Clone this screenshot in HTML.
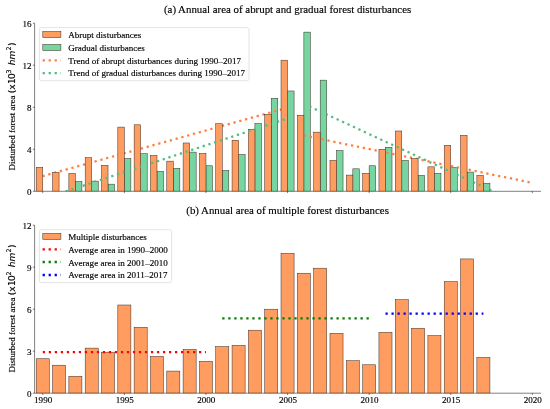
<!DOCTYPE html>
<html lang="en">
<head>
<meta charset="utf-8">
<title>Forest disturbances</title>
<style>
html,body{margin:0;padding:0;background:#fff;}
body{width:550px;height:409px;overflow:hidden;}
svg text{white-space:pre;stroke:#000;stroke-width:0.15px;}
</style>
</head>
<body>
<svg width="550" height="409" viewBox="0 0 550 409" style="display:block">
<rect x="0" y="0" width="550" height="409" fill="#fff"/>
<defs><clipPath id="ct"><rect x="34.60" y="23.20" width="506.40" height="168.10"/></clipPath>
<clipPath id="cb"><rect x="34.60" y="225.20" width="506.40" height="168.00"/></clipPath></defs>
<g font-family="'Liberation Serif', serif" fill="#000">
<text x="287.6" y="12.65" font-size="10.87" text-anchor="middle">(a) Annual area of abrupt and gradual forest disturbances</text>
<text x="287.6" y="213.7" font-size="10.87" text-anchor="middle">(b) Annual area of multiple forest disturbances</text>
</g>
<g stroke="#3a2a20" stroke-width="0.50" clip-path="url(#ct)">
<rect x="75.39" y="181.53" width="6.53" height="9.77" fill="#76D5A0"/>
<rect x="91.71" y="181.11" width="6.53" height="10.19" fill="#76D5A0"/>
<rect x="108.03" y="184.16" width="6.53" height="7.14" fill="#76D5A0"/>
<rect x="124.35" y="158.42" width="6.53" height="32.88" fill="#76D5A0"/>
<rect x="140.67" y="153.69" width="6.53" height="37.61" fill="#76D5A0"/>
<rect x="156.99" y="171.34" width="6.53" height="19.96" fill="#76D5A0"/>
<rect x="173.31" y="168.29" width="6.53" height="23.01" fill="#76D5A0"/>
<rect x="189.63" y="152.11" width="6.53" height="39.19" fill="#76D5A0"/>
<rect x="205.95" y="165.77" width="6.53" height="25.53" fill="#76D5A0"/>
<rect x="222.27" y="170.50" width="6.53" height="20.80" fill="#76D5A0"/>
<rect x="238.59" y="154.42" width="6.53" height="36.88" fill="#76D5A0"/>
<rect x="254.91" y="123.54" width="6.53" height="67.76" fill="#76D5A0"/>
<rect x="271.23" y="98.32" width="6.53" height="92.98" fill="#76D5A0"/>
<rect x="287.55" y="90.97" width="6.53" height="100.33" fill="#76D5A0"/>
<rect x="303.87" y="32.13" width="6.53" height="159.17" fill="#76D5A0"/>
<rect x="320.19" y="80.15" width="6.53" height="111.15" fill="#76D5A0"/>
<rect x="336.51" y="150.54" width="6.53" height="40.76" fill="#76D5A0"/>
<rect x="352.83" y="168.82" width="6.53" height="22.48" fill="#76D5A0"/>
<rect x="369.15" y="165.77" width="6.53" height="25.53" fill="#76D5A0"/>
<rect x="385.47" y="147.28" width="6.53" height="44.02" fill="#76D5A0"/>
<rect x="401.79" y="160.41" width="6.53" height="30.89" fill="#76D5A0"/>
<rect x="418.11" y="175.33" width="6.53" height="15.97" fill="#76D5A0"/>
<rect x="434.43" y="173.33" width="6.53" height="17.97" fill="#76D5A0"/>
<rect x="450.75" y="167.56" width="6.53" height="23.74" fill="#76D5A0"/>
<rect x="467.07" y="172.07" width="6.53" height="19.23" fill="#76D5A0"/>
<rect x="483.39" y="183.21" width="6.53" height="8.09" fill="#76D5A0"/>
</g>
<g fill="none">
<line x1="42.45" y1="176.17" x2="287.55" y2="107.67" stroke="#FF7F3F" stroke-width="2.27" stroke-dasharray="2.27 3.74" clip-path="url(#ct)"/>
<line x1="303.87" y1="135.51" x2="532.35" y2="182.90" stroke="#FF7F3F" stroke-width="2.27" stroke-dasharray="2.27 3.74" clip-path="url(#ct)"/>
</g>
<g stroke="#3a2a20" stroke-width="0.50" clip-path="url(#ct)">
<rect x="36.22" y="167.35" width="6.53" height="23.95" fill="#FF9D61"/>
<rect x="52.54" y="172.49" width="6.53" height="18.81" fill="#FF9D61"/>
<rect x="68.86" y="173.44" width="6.53" height="17.86" fill="#FF9D61"/>
<rect x="85.18" y="157.68" width="6.53" height="33.62" fill="#FF9D61"/>
<rect x="101.50" y="165.25" width="6.53" height="26.05" fill="#FF9D61"/>
<rect x="117.82" y="127.11" width="6.53" height="64.19" fill="#FF9D61"/>
<rect x="134.14" y="124.80" width="6.53" height="66.50" fill="#FF9D61"/>
<rect x="150.46" y="155.37" width="6.53" height="35.93" fill="#FF9D61"/>
<rect x="166.78" y="161.15" width="6.53" height="30.15" fill="#FF9D61"/>
<rect x="183.10" y="142.97" width="6.53" height="48.33" fill="#FF9D61"/>
<rect x="199.42" y="153.37" width="6.53" height="37.93" fill="#FF9D61"/>
<rect x="215.74" y="123.75" width="6.53" height="67.55" fill="#FF9D61"/>
<rect x="232.06" y="140.24" width="6.53" height="51.06" fill="#FF9D61"/>
<rect x="248.38" y="129.31" width="6.53" height="61.99" fill="#FF9D61"/>
<rect x="264.70" y="114.29" width="6.53" height="77.01" fill="#FF9D61"/>
<rect x="281.02" y="60.19" width="6.53" height="131.11" fill="#FF9D61"/>
<rect x="297.34" y="115.24" width="6.53" height="76.06" fill="#FF9D61"/>
<rect x="313.66" y="132.15" width="6.53" height="59.15" fill="#FF9D61"/>
<rect x="329.98" y="160.41" width="6.53" height="30.89" fill="#FF9D61"/>
<rect x="346.30" y="175.12" width="6.53" height="16.18" fill="#FF9D61"/>
<rect x="362.62" y="173.33" width="6.53" height="17.97" fill="#FF9D61"/>
<rect x="378.94" y="149.28" width="6.53" height="42.02" fill="#FF9D61"/>
<rect x="395.26" y="131.00" width="6.53" height="60.30" fill="#FF9D61"/>
<rect x="411.58" y="158.42" width="6.53" height="32.88" fill="#FF9D61"/>
<rect x="427.90" y="166.82" width="6.53" height="24.48" fill="#FF9D61"/>
<rect x="444.22" y="145.28" width="6.53" height="46.02" fill="#FF9D61"/>
<rect x="460.54" y="135.30" width="6.53" height="56.00" fill="#FF9D61"/>
<rect x="476.86" y="175.33" width="6.53" height="15.97" fill="#FF9D61"/>
</g>
<mask id="mg" maskUnits="userSpaceOnUse" x="0" y="0" width="550" height="409"><rect x="0" y="0" width="550" height="409" fill="#fff"/>
<rect x="75.39" y="181.53" width="6.53" height="9.77" fill="#000"/>
<rect x="91.71" y="181.11" width="6.53" height="10.19" fill="#000"/>
<rect x="108.03" y="184.16" width="6.53" height="7.14" fill="#000"/>
<rect x="124.35" y="158.42" width="6.53" height="32.88" fill="#000"/>
<rect x="140.67" y="153.69" width="6.53" height="37.61" fill="#000"/>
<rect x="156.99" y="171.34" width="6.53" height="19.96" fill="#000"/>
<rect x="173.31" y="168.29" width="6.53" height="23.01" fill="#000"/>
<rect x="189.63" y="152.11" width="6.53" height="39.19" fill="#000"/>
<rect x="205.95" y="165.77" width="6.53" height="25.53" fill="#000"/>
<rect x="222.27" y="170.50" width="6.53" height="20.80" fill="#000"/>
<rect x="238.59" y="154.42" width="6.53" height="36.88" fill="#000"/>
<rect x="254.91" y="123.54" width="6.53" height="67.76" fill="#000"/>
<rect x="271.23" y="98.32" width="6.53" height="92.98" fill="#000"/>
<rect x="287.55" y="90.97" width="6.53" height="100.33" fill="#000"/>
<rect x="303.87" y="32.13" width="6.53" height="159.17" fill="#000"/>
<rect x="320.19" y="80.15" width="6.53" height="111.15" fill="#000"/>
<rect x="336.51" y="150.54" width="6.53" height="40.76" fill="#000"/>
<rect x="352.83" y="168.82" width="6.53" height="22.48" fill="#000"/>
<rect x="369.15" y="165.77" width="6.53" height="25.53" fill="#000"/>
<rect x="385.47" y="147.28" width="6.53" height="44.02" fill="#000"/>
<rect x="401.79" y="160.41" width="6.53" height="30.89" fill="#000"/>
<rect x="418.11" y="175.33" width="6.53" height="15.97" fill="#000"/>
<rect x="434.43" y="173.33" width="6.53" height="17.97" fill="#000"/>
<rect x="450.75" y="167.56" width="6.53" height="23.74" fill="#000"/>
<rect x="467.07" y="172.07" width="6.53" height="19.23" fill="#000"/>
<rect x="483.39" y="183.21" width="6.53" height="8.09" fill="#000"/>
</mask>
<g fill="none" mask="url(#mg)">
<line x1="42.75" y1="198.94" x2="287.55" y2="118.49" stroke="#50BE82" stroke-width="2.27" stroke-dasharray="2.27 3.74" clip-path="url(#ct)"/>
<line x1="303.87" y1="103.89" x2="532.35" y2="209.54" stroke="#50BE82" stroke-width="2.27" stroke-dasharray="2.27 3.74" clip-path="url(#ct)"/>
</g>
<g stroke="#3a2a20" stroke-width="0.50" clip-path="url(#cb)">
<rect x="36.22" y="358.76" width="13.06" height="34.44" fill="#FF9D61"/>
<rect x="52.54" y="365.20" width="13.06" height="28.00" fill="#FF9D61"/>
<rect x="68.86" y="376.26" width="13.06" height="16.94" fill="#FF9D61"/>
<rect x="85.18" y="348.12" width="13.06" height="45.08" fill="#FF9D61"/>
<rect x="101.50" y="352.18" width="13.06" height="41.02" fill="#FF9D61"/>
<rect x="117.82" y="305.00" width="13.06" height="88.20" fill="#FF9D61"/>
<rect x="134.14" y="327.26" width="13.06" height="65.94" fill="#FF9D61"/>
<rect x="150.46" y="356.38" width="13.06" height="36.82" fill="#FF9D61"/>
<rect x="166.78" y="371.08" width="13.06" height="22.12" fill="#FF9D61"/>
<rect x="183.10" y="349.38" width="13.06" height="43.82" fill="#FF9D61"/>
<rect x="199.42" y="361.28" width="13.06" height="31.92" fill="#FF9D61"/>
<rect x="215.74" y="346.58" width="13.06" height="46.62" fill="#FF9D61"/>
<rect x="232.06" y="345.32" width="13.06" height="47.88" fill="#FF9D61"/>
<rect x="248.38" y="330.20" width="13.06" height="63.00" fill="#FF9D61"/>
<rect x="264.70" y="309.20" width="13.06" height="84.00" fill="#FF9D61"/>
<rect x="281.02" y="253.34" width="13.06" height="139.86" fill="#FF9D61"/>
<rect x="297.34" y="273.22" width="13.06" height="119.98" fill="#FF9D61"/>
<rect x="313.66" y="268.18" width="13.06" height="125.02" fill="#FF9D61"/>
<rect x="329.98" y="333.28" width="13.06" height="59.92" fill="#FF9D61"/>
<rect x="346.30" y="360.72" width="13.06" height="32.48" fill="#FF9D61"/>
<rect x="362.62" y="364.78" width="13.06" height="28.42" fill="#FF9D61"/>
<rect x="378.94" y="332.30" width="13.06" height="60.90" fill="#FF9D61"/>
<rect x="395.26" y="299.68" width="13.06" height="93.52" fill="#FF9D61"/>
<rect x="411.58" y="328.24" width="13.06" height="64.96" fill="#FF9D61"/>
<rect x="427.90" y="335.52" width="13.06" height="57.68" fill="#FF9D61"/>
<rect x="444.22" y="281.62" width="13.06" height="111.58" fill="#FF9D61"/>
<rect x="460.54" y="258.94" width="13.06" height="134.26" fill="#FF9D61"/>
<rect x="476.86" y="357.36" width="13.06" height="35.84" fill="#FF9D61"/>
</g>
<line x1="42.75" y1="352.04" x2="205.95" y2="352.04" stroke="#FF0000" stroke-width="2.27" stroke-dasharray="2.27 3.74" clip-path="url(#cb)"/>
<line x1="222.27" y1="318.30" x2="369.15" y2="318.30" stroke="#008000" stroke-width="2.27" stroke-dasharray="2.27 3.74" clip-path="url(#cb)"/>
<line x1="385.47" y1="313.54" x2="483.39" y2="313.54" stroke="#0000FF" stroke-width="2.27" stroke-dasharray="2.27 3.74" clip-path="url(#cb)"/>
<g stroke="#000" stroke-width="0.50" fill="none">
<path d="M34.60 23.20 V191.30 H541.00"/>
<path d="M34.60 225.20 V393.20 H541.00"/>
<path d="M34.60 191.30 h-1.80"/>
<path d="M34.60 149.28 h-1.80"/>
<path d="M34.60 107.25 h-1.80"/>
<path d="M34.60 65.23 h-1.80"/>
<path d="M34.60 23.20 h-1.80"/>
<path d="M34.60 393.20 h-1.80"/>
<path d="M34.60 351.20 h-1.80"/>
<path d="M34.60 309.20 h-1.80"/>
<path d="M34.60 267.20 h-1.80"/>
<path d="M34.60 225.20 h-1.80"/>
<path d="M42.75 191.30 v1.80"/>
<path d="M42.75 393.20 v1.80"/>
<path d="M124.35 191.30 v1.80"/>
<path d="M124.35 393.20 v1.80"/>
<path d="M205.95 191.30 v1.80"/>
<path d="M205.95 393.20 v1.80"/>
<path d="M287.55 191.30 v1.80"/>
<path d="M287.55 393.20 v1.80"/>
<path d="M369.15 191.30 v1.80"/>
<path d="M369.15 393.20 v1.80"/>
<path d="M450.75 191.30 v1.80"/>
<path d="M450.75 393.20 v1.80"/>
<path d="M532.35 191.30 v1.80"/>
<path d="M532.35 393.20 v1.80"/>
</g>
<g font-family="'Liberation Serif', serif" font-size="9.05" fill="#000">
<text x="31.55" y="194.90" text-anchor="end">0</text>
<text x="31.55" y="152.88" text-anchor="end">4</text>
<text x="31.55" y="110.85" text-anchor="end">8</text>
<text x="31.55" y="68.83" text-anchor="end">12</text>
<text x="31.55" y="26.80" text-anchor="end">16</text>
<text x="31.55" y="396.80" text-anchor="end">0</text>
<text x="31.55" y="354.80" text-anchor="end">3</text>
<text x="31.55" y="312.80" text-anchor="end">6</text>
<text x="31.55" y="270.80" text-anchor="end">9</text>
<text x="31.55" y="228.80" text-anchor="end">12</text>
<text x="43.15" y="402.9" text-anchor="middle">1990</text>
<text x="124.75" y="402.9" text-anchor="middle">1995</text>
<text x="206.35" y="402.9" text-anchor="middle">2000</text>
<text x="287.95" y="402.9" text-anchor="middle">2005</text>
<text x="369.55" y="402.9" text-anchor="middle">2010</text>
<text x="451.15" y="402.9" text-anchor="middle">2015</text>
<text x="532.75" y="402.9" text-anchor="middle">2020</text>
</g>
<g transform="translate(14.8,170.50) rotate(-90)" fill="#000" font-size="9.05">
<text x="0" y="0" font-family="'Liberation Serif', serif" font-size="8.95">Disturbed forest area</text>
<g font-family="'DejaVu Sans', sans-serif">
<text x="77.25" y="0">(</text>
<text x="80.8" y="0">x</text>
<text x="86.5" y="0">1</text>
<text x="91.6" y="0">0</text>
<text x="97.0" y="-3.6" font-size="6.33">3</text>
<text x="105.3" y="0" font-style="italic">hm</text>
<text x="119.9" y="-3.6" font-size="6.33">2</text>
<text x="124.4" y="0">)</text>
</g></g>
<g transform="translate(14.8,372.50) rotate(-90)" fill="#000" font-size="9.05">
<text x="0" y="0" font-family="'Liberation Serif', serif" font-size="8.95">Disturbed forest area</text>
<g font-family="'DejaVu Sans', sans-serif">
<text x="77.25" y="0">(</text>
<text x="80.8" y="0">x</text>
<text x="86.5" y="0">1</text>
<text x="91.6" y="0">0</text>
<text x="97.0" y="-3.6" font-size="6.33">2</text>
<text x="105.3" y="0" font-style="italic">hm</text>
<text x="119.9" y="-3.6" font-size="6.33">2</text>
<text x="124.4" y="0">)</text>
</g></g>
<rect x="39.40" y="27.60" width="209.60" height="53.10" rx="1.8" ry="1.8" fill="#fff" fill-opacity="0.8" stroke="#ddd" stroke-width="0.8"/>
<g stroke="#3a2a20" stroke-width="0.50">
<rect x="42.8" y="31.5" width="18.1" height="6.2" fill="#FF9D61"/>
<rect x="42.8" y="44.4" width="18.1" height="6.2" fill="#76D5A0"/>
</g>
<line x1="42.6" y1="60.4" x2="60.95" y2="60.4" stroke="#FF7F3F" stroke-width="2.27" stroke-dasharray="2.27 3.74"/>
<line x1="42.6" y1="73.2" x2="60.95" y2="73.2" stroke="#50BE82" stroke-width="2.27" stroke-dasharray="2.27 3.74"/>
<g font-family="'Liberation Serif', serif" font-size="9.05" fill="#000">
<text x="68.2" y="37.7">Abrupt disturbances</text>
<text x="68.2" y="50.8">Gradual disturbances</text>
<text x="68.2" y="63.9">Trend of abrupt disturbances during 1990–2017</text>
<text x="68.2" y="76.4">Trend of gradual disturbances during 1990–2017</text>
</g>
<rect x="39.40" y="229.70" width="132.20" height="52.90" rx="1.8" ry="1.8" fill="#fff" fill-opacity="0.8" stroke="#ddd" stroke-width="0.8"/>
<g stroke="#3a2a20" stroke-width="0.50">
<rect x="42.8" y="233.4" width="18.1" height="6.2" fill="#FF9D61"/>
</g>
<line x1="42.6" y1="249.30" x2="60.95" y2="249.30" stroke="#FF0000" stroke-width="2.27" stroke-dasharray="2.27 3.74"/>
<line x1="42.6" y1="262.00" x2="60.95" y2="262.00" stroke="#008000" stroke-width="2.27" stroke-dasharray="2.27 3.74"/>
<line x1="42.6" y1="275.00" x2="60.95" y2="275.00" stroke="#0000FF" stroke-width="2.27" stroke-dasharray="2.27 3.74"/>
<g font-family="'Liberation Serif', serif" font-size="9.05" fill="#000">
<text x="68.2" y="239.7">Multiple disturbances</text>
<text x="68.2" y="252.6">Average area in 1990–2000</text>
<text x="68.2" y="265.8">Average area in 2001–2010</text>
<text x="68.2" y="278.4">Average area in 2011–2017</text>
</g>
</svg>
</body>
</html>
